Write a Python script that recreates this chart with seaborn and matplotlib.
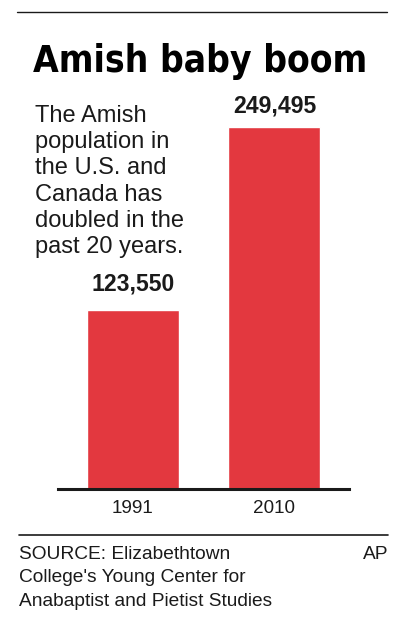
import matplotlib
matplotlib.use("Agg")
import matplotlib.pyplot as plt
from matplotlib import font_manager
import seaborn as sns
import pandas as pd

# Amish population, U.S. and Canada
years = ["1991", "2010"]
population = [123550, 249495]
value_labels = ["123,550", "249,495"]

title = "Amish baby boom"
blurb = ["The Amish", "population in", "the U.S. and",
         "Canada has", "doubled in the", "past 20 years."]
source = ["SOURCE: Elizabethtown", "College's Young Center for",
          "Anabaptist and Pietist Studies"]
credit = "AP"

BAR_RED = "#E3383F"
INK = "#1a1a1a"

W, H = 405, 638
sns.set_theme(style="white")
installed = {f.name for f in font_manager.fontManager.ttflist}
body_font = "Liberation Sans" if "Liberation Sans" in installed else "DejaVu Sans"
plt.rcParams["font.family"] = [body_font, "DejaVu Sans"]

# a narrow/condensed bold face for the headline, if one is around
title_prop = None
for f in font_manager.fontManager.ttflist:
    narrow = ("Narrow" in f.name or "Condensed" in f.name
              or f.stretch in ("condensed", "semi-condensed", 
                               "extra-condensed", "ultra-condensed"))
    if narrow and f.weight in ("bold", 700, "heavy", 800, 900, "black"):
        title_prop = font_manager.FontProperties(fname=f.fname)
        break
if title_prop is None:
    title_prop = font_manager.FontProperties(family=body_font, weight="bold")


def fx(px):
    return px / W


def fy(py):
    return 1 - py / H


df = pd.DataFrame({"year": years, "population": population})

fig = plt.figure(figsize=(W / 100, H / 100), dpi=100)
fig.patch.set_facecolor("white")

# axes: baseline at y=489px, x from 58 to 349px
ax_top_px = 100
ax = fig.add_axes([fx(58), fy(489), fx(349) - fx(58), (489 - ax_top_px) / H])
sns.barplot(data=df, x="year", y="population", hue="year",
            palette=[BAR_RED, BAR_RED], legend=False, width=0.65,
            saturation=1, ax=ax)
top_val = population[1] * (489 - ax_top_px) / (489 - 127)
ax.set_ylim(0, top_val)
ax.set_xlim(-0.53, 1.527)
ax.set_xlabel("")
ax.set_ylabel("")
ax.set_yticks([])
for side in ["top", "right", "left"]:
    ax.spines[side].set_visible(False)
ax.spines["bottom"].set_color(INK)
ax.spines["bottom"].set_linewidth(2.2)
ax.tick_params(axis="x", length=0, pad=8, labelsize=13.6, labelcolor=INK)
ax.patch.set_alpha(0)

ax.bar_label(ax.containers[0], labels=[value_labels[0]], padding=10,
             fontsize=16.6, fontweight="bold", color=INK)
ax.bar_label(ax.containers[1], labels=[value_labels[1]], padding=6.5,
             fontsize=16.6, fontweight="bold", color=INK)

# rules
fig.add_artist(plt.Line2D([fx(17), fx(387)], [fy(12), fy(12)], color=INK, lw=1.0))
fig.add_artist(plt.Line2D([fx(19), fx(388)], [fy(535), fy(535)], color=INK, lw=1.2))

# title, sized to span 33..368 px
t = fig.text(fx(33), fy(72), title, fontproperties=title_prop, color="black",
             va="baseline")
t.set_fontsize(34)
fig.canvas.draw()
w = t.get_window_extent().width
t.set_fontsize(34 * 335 / w)

# blurb
for i, line in enumerate(blurb):
    fig.text(fx(35), fy(122 + i * 26.2), line, fontsize=17, color=INK,
             va="baseline")

# source + credit
for i, line in enumerate(source):
    fig.text(fx(19), fy(559 + i * 23.5), line, fontsize=13.8, color=INK,
             va="baseline")
fig.text(fx(388), fy(559), credit, fontsize=13.8, color=INK, va="baseline",
         ha="right")

fig.savefig("out.png", dpi=100, facecolor="white")
